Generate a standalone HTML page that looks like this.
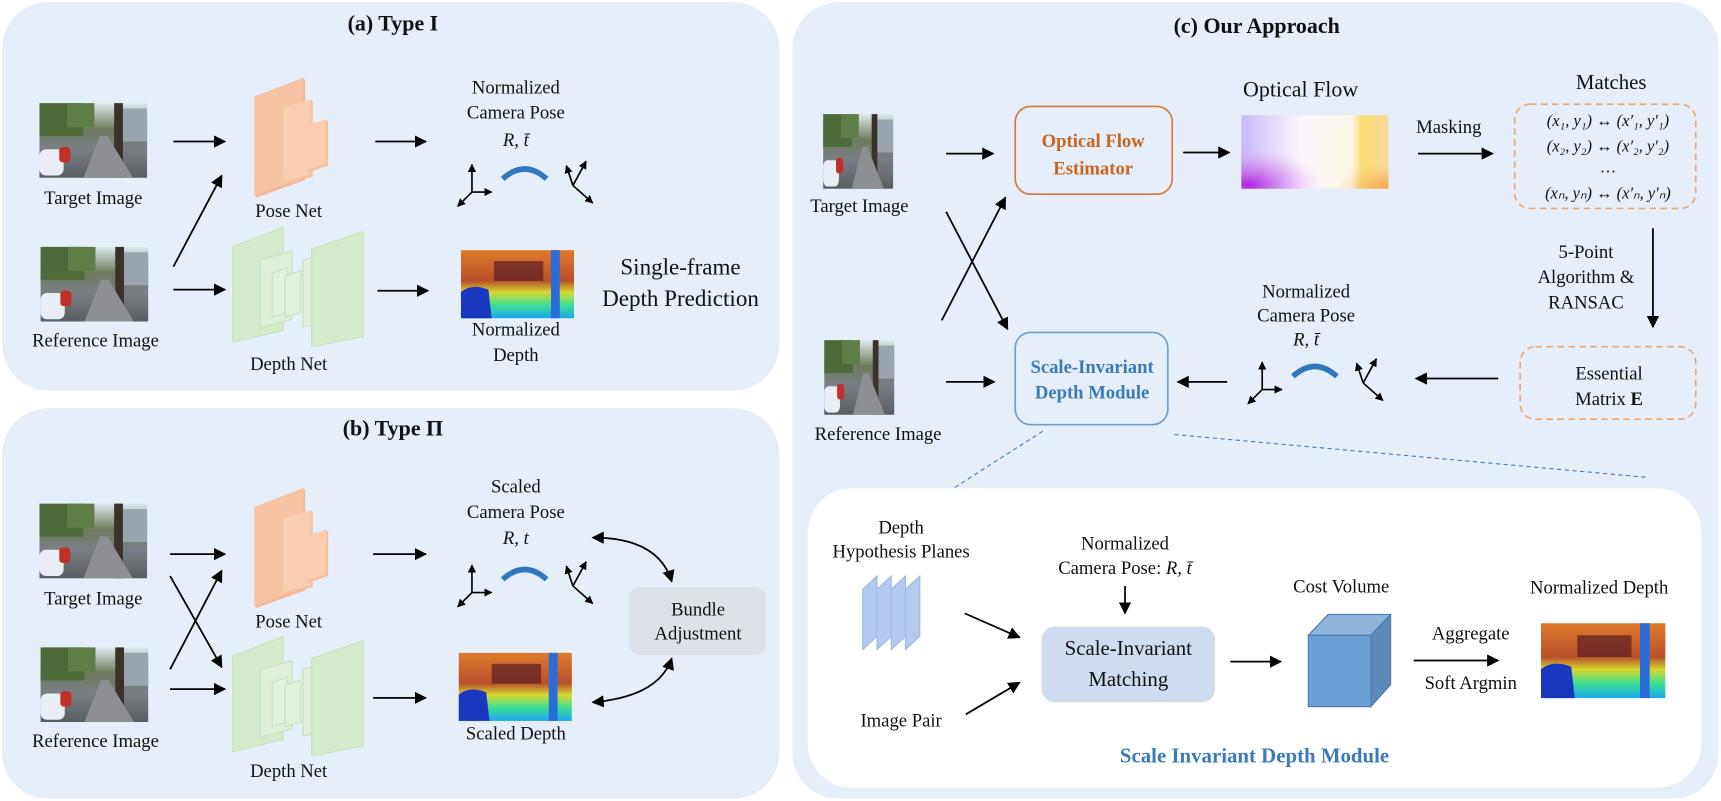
<!DOCTYPE html>
<html><head><meta charset="utf-8"><style>
html,body{margin:0;padding:0;background:#fff}
svg{display:block}
text{font-family:"Liberation Serif",serif;fill:#111;font-size:17px;text-anchor:middle}
.b{font-weight:bold}
.i{font-style:italic}
</style></head><body>
<svg width="1721" height="801" viewBox="0 0 1568 730" preserveAspectRatio="none" xmlns="http://www.w3.org/2000/svg">
<defs>
<marker id="ah" viewBox="0 0 10 10" refX="9" refY="5" markerWidth="7" markerHeight="7" orient="auto-start-reverse"><path d="M0,0 L10,5 L0,10 z" fill="#000"/></marker>
<marker id="sa" viewBox="0 0 10 10" refX="9" refY="5" markerWidth="5" markerHeight="5" orient="auto-start-reverse"><path d="M0,0 L10,5 L0,10 z" fill="#000"/></marker>
<linearGradient id="road" x1="0" y1="0" x2="0" y2="1"><stop offset="0" stop-color="#dfe8ee"/><stop offset="0.35" stop-color="#6d7a5a"/><stop offset="0.6" stop-color="#7a7f86"/><stop offset="1" stop-color="#5a5e60"/></linearGradient>
<linearGradient id="dep" x1="0" y1="0" x2="0" y2="1"><stop offset="0" stop-color="#e07a2c"/><stop offset="0.45" stop-color="#b8502a"/><stop offset="0.62" stop-color="#d8d830"/><stop offset="0.8" stop-color="#40e090"/><stop offset="1" stop-color="#18a8f0"/></linearGradient>
<linearGradient id="flow" x1="0" y1="0" x2="1" y2="0"><stop offset="0" stop-color="#c9b8f8"/><stop offset="0.4" stop-color="#fbf6fb"/><stop offset="0.75" stop-color="#fdf7e8"/><stop offset="0.82" stop-color="#f8dc70"/><stop offset="1" stop-color="#fbd9a0"/></linearGradient>
<radialGradient id="flow2" cx="0.05" cy="0.95" r="0.5"><stop offset="0" stop-color="#b020e0"/><stop offset="1" stop-color="#e0a0f0" stop-opacity="0"/></radialGradient>
<radialGradient id="flow3" cx="1" cy="1" r="0.35"><stop offset="0" stop-color="#f8a040"/><stop offset="1" stop-color="#f8c080" stop-opacity="0"/></radialGradient>
<g id="img">
<rect width="98" height="68" fill="url(#road)"/>
<rect x="0" y="0" width="40" height="30" fill="#4c6a3a"/>
<rect x="25" y="0" width="25" height="22" fill="#5e7e48"/>
<rect x="68" y="0" width="8" height="68" fill="#3a3228"/>
<rect x="76" y="5" width="22" height="30" fill="#9aa4ae"/>
<path d="M40,68 L55,30 L62,30 L85,68z" fill="#8d8f93"/>
<rect x="0" y="42" width="22" height="24" rx="6" fill="#e8eef4"/>
<rect x="18" y="40" width="10" height="14" rx="3" fill="#c03028"/>
</g>
<g id="depth">
<rect width="103" height="62" fill="url(#dep)"/>
<rect x="30" y="10" width="45" height="18" fill="#5a1c24" opacity="0.7"/>
<rect x="82" y="0" width="8" height="62" fill="#2a6cd8"/>
<path d="M0,38 Q10,30 25,36 L28,62 L0,62z" fill="#1838c0"/>
</g>
<g id="axes" stroke="#000" stroke-width="1.5" fill="none">
<line x1="0" y1="0" x2="0" y2="-25" marker-end="url(#sa)"/>
<line x1="0" y1="0" x2="18" y2="0" marker-end="url(#sa)"/>
<line x1="0" y1="0" x2="-13" y2="13" marker-end="url(#sa)"/>
<path d="M28,-12 Q48,-30 68,-12" stroke="#2f78c0" stroke-width="5"/>
<line x1="92" y1="-6" x2="104" y2="-28" marker-end="url(#sa)"/>
<line x1="92" y1="-6" x2="86" y2="-24" marker-end="url(#sa)"/>
<line x1="92" y1="-6" x2="110" y2="10" marker-end="url(#sa)"/>
</g>
<g id="pose" opacity="0.85">
<path d="M0,17 L44,0 L46,2 L46,93 L2,109 L0,107z" fill="#f6b088"/>
<path d="M0,17 L44,0 L44,91 L0,107z" fill="#fbbc94"/>
<path d="M26,27 L51,20 L53,22 L53,90 L28,97 L26,95z" fill="#f8b890"/>
<path d="M26,27 L51,20 L51,88 L26,95z" fill="#fdc8a4"/>
<path d="M47,43 L65,38 L67,40 L67,80 L49,86 L47,84z" fill="#f8b890"/>
<path d="M47,43 L65,38 L65,78 L47,84z" fill="#fdc8a4"/>
</g>
<g id="dnet" opacity="0.8" fill="#d3eac2" stroke="#c0dfaa" stroke-width="1">
<path d="M0,18 L46,0 L46,94 L0,105z"/>
<path d="M25,30 L54,22 L54,84 L25,92z" fill="#dff0d0"/>
<path d="M36,42 L50,37 L50,78 L36,82z" fill="#e2f2d4"/>
<path d="M48,44 L62,40 L62,78 L48,82z" fill="#e2f2d4"/>
<path d="M64,30 L93,23 L93,84 L64,91z" fill="#dff0d0"/>
<path d="M72,20 L119,4 L119,100 L72,109z"/>
</g>
</defs>

<!-- Panel a -->
<rect x="2" y="2" width="708" height="354" rx="42" fill="#e5eef9"/>
<text x="358" y="28" class="b" style="font-size:20px">(a) Type I</text>
<use href="#img" x="36" y="94"/>
<text x="85" y="186">Target Image</text>
<use href="#img" x="37" y="225"/>
<text x="87" y="316">Reference Image</text>
<g stroke="#000" stroke-width="1.6" marker-end="url(#ah)">
<line x1="158" y1="129" x2="205" y2="129"/>
<line x1="158" y1="264" x2="205" y2="264"/>
<line x1="158" y1="243" x2="202" y2="160"/>
<line x1="342" y1="129" x2="388" y2="129"/>
<line x1="344" y1="265" x2="390" y2="265"/>
</g>
<use href="#pose" x="232" y="71"/>
<text x="263" y="198">Pose Net</text>
<use href="#dnet" x="212" y="207"/>
<text x="263" y="337">Depth Net</text>
<text x="470" y="85">Normalized</text>
<text x="470" y="108">Camera Pose</text>
<text x="470" y="133" class="i">R, t̄</text>
<use href="#axes" x="430" y="175"/>
<use href="#depth" x="420" y="228"/>
<text x="470" y="306">Normalized</text>
<text x="470" y="329">Depth</text>
<text x="620" y="250" style="font-size:21px">Single-frame</text>
<text x="620" y="279" style="font-size:21px">Depth Prediction</text>

<!-- Panel b -->
<rect x="2" y="372" width="708" height="356" rx="42" fill="#e5eef9"/>
<text x="358" y="397" class="b" style="font-size:20px">(b) Type Π</text>
<use href="#img" x="36" y="459"/>
<text x="85" y="551">Target Image</text>
<use href="#img" x="37" y="590"/>
<text x="87" y="681">Reference Image</text>
<g stroke="#000" stroke-width="1.6" marker-end="url(#ah)">
<line x1="155" y1="505" x2="205" y2="505"/>
<line x1="155" y1="628" x2="205" y2="628"/>
<line x1="155" y1="525" x2="202" y2="608"/>
<line x1="155" y1="610" x2="202" y2="520"/>
<line x1="340" y1="505" x2="388" y2="505"/>
<line x1="340" y1="636" x2="388" y2="636"/>
</g>
<use href="#pose" x="232" y="445"/>
<text x="263" y="572">Pose Net</text>
<use href="#dnet" x="212" y="580"/>
<text x="263" y="708">Depth Net</text>
<text x="470" y="449">Scaled</text>
<text x="470" y="472">Camera Pose</text>
<text x="470" y="496" class="i">R, t</text>
<use href="#axes" x="430" y="540"/>
<use href="#depth" x="418" y="595"/>
<text x="470" y="674">Scaled Depth</text>
<rect x="573" y="535" width="125" height="62" rx="10" fill="#dde2e8"/>
<text x="636" y="561">Bundle</text>
<text x="636" y="583">Adjustment</text>
<path d="M540,490 Q600,490 612,530" stroke="#000" stroke-width="1.6" fill="none" marker-start="url(#ah)" marker-end="url(#ah)"/>
<path d="M540,640 Q600,635 612,600" stroke="#000" stroke-width="1.6" fill="none" marker-start="url(#ah)" marker-end="url(#ah)"/>

<!-- Panel c -->
<rect x="722" y="2" width="844" height="726" rx="42" fill="#e5eef9"/>
<text x="1145" y="30" class="b" style="font-size:20px">(c) Our Approach</text>
<use href="#img" x="0" y="0" transform="translate(750,104) scale(0.65,1)"/>
<text x="783" y="193">Target Image</text>
<use href="#img" x="0" y="0" transform="translate(751,310) scale(0.65,1)"/>
<text x="800" y="401">Reference Image</text>
<rect x="925" y="97" width="143" height="80" rx="14" fill="none" stroke="#d4793a" stroke-width="1.5"/>
<text x="996" y="134" class="b" style="fill:#c8641e">Optical Flow</text>
<text x="996" y="159" class="b" style="fill:#c8641e">Estimator</text>
<rect x="925" y="303" width="139" height="84" rx="14" fill="none" stroke="#6a9fd0" stroke-width="1.5"/>
<text x="995" y="340" class="b" style="fill:#3a7ab8">Scale-Invariant</text>
<text x="995" y="363" class="b" style="fill:#3a7ab8">Depth Module</text>
<text x="1185" y="88" style="font-size:20px">Optical Flow</text>
<rect x="1131" y="105" width="134" height="67" fill="url(#flow)"/>
<rect x="1131" y="105" width="134" height="67" fill="url(#flow2)"/>
<rect x="1131" y="105" width="134" height="67" fill="url(#flow3)"/>
<text x="1320" y="121">Masking</text>
<text x="1468" y="81" style="font-size:19px">Matches</text>
<rect x="1380" y="95" width="165" height="95" rx="14" fill="none" stroke="#f0a870" stroke-width="1.5" stroke-dasharray="6,4"/>
<text x="1465" y="115" class="i" style="font-size:15px">(x₁, y₁) ↔ (x′₁, y′₁)</text>
<text x="1465" y="138" class="i" style="font-size:15px">(x₂, y₂) ↔ (x′₂, y′₂)</text>
<text x="1465" y="157" style="font-size:15px">…</text>
<text x="1465" y="181" class="i" style="font-size:15px">(xₙ, yₙ) ↔ (x′ₙ, y′ₙ)</text>
<text x="1445" y="235">5-Point</text>
<text x="1445" y="258">Algorithm &amp;</text>
<text x="1445" y="281">RANSAC</text>
<rect x="1385" y="316" width="160" height="66" rx="14" fill="none" stroke="#f0a870" stroke-width="1.5" stroke-dasharray="6,4"/>
<text x="1466" y="346">Essential</text>
<text x="1466" y="369">Matrix <tspan class="b">E</tspan></text>
<text x="1190" y="271">Normalized</text>
<text x="1190" y="293">Camera Pose</text>
<text x="1190" y="315" class="i">R, t̄</text>
<use href="#axes" x="1150" y="355"/>
<g stroke="#000" stroke-width="1.6" marker-end="url(#ah)">
<line x1="862" y1="140" x2="905" y2="140"/>
<line x1="1078" y1="139" x2="1120" y2="139"/>
<line x1="1292" y1="140" x2="1360" y2="140"/>
<line x1="1506" y1="208" x2="1506" y2="298"/>
<line x1="1365" y1="345" x2="1290" y2="345"/>
<line x1="1118" y1="348" x2="1073" y2="348"/>
<line x1="862" y1="348" x2="906" y2="348"/>
<line x1="862" y1="193" x2="918" y2="300"/>
<line x1="858" y1="292" x2="916" y2="180"/>
</g>
<line x1="950" y1="393" x2="825" y2="473" stroke="#4a7ab8" stroke-width="1" stroke-dasharray="4,3"/>
<line x1="1070" y1="396" x2="1500" y2="435" stroke="#4a7ab8" stroke-width="1" stroke-dasharray="4,3"/>

<rect x="736" y="445" width="814" height="273" rx="40" fill="#fff"/>
<text x="821" y="486">Depth</text>
<text x="821" y="508">Hypothesis Planes</text>
<g fill="#a8c0ec" stroke="#90acde" stroke-width="1" opacity="0.85">
<path d="M786,537 L799,525 L799,580 L786,592z"/>
<path d="M799,537 L812,525 L812,580 L799,592z"/>
<path d="M812,537 L825,525 L825,580 L812,592z"/>
<path d="M825,537 L838,525 L838,580 L825,592z"/>
</g>
<text x="821" y="662">Image Pair</text>
<text x="1025" y="501">Normalized</text>
<text x="1025" y="523">Camera Pose:  <tspan class="i">R, t̄</tspan></text>
<rect x="949" y="571" width="158" height="69" rx="12" fill="#cfdbf0"/>
<text x="1028" y="597" style="font-size:19px">Scale-Invariant</text>
<text x="1028" y="625" style="font-size:19px">Matching</text>
<text x="1222" y="540">Cost Volume</text>
<path d="M1192,579 L1210,560 L1267,560 L1249,579z" fill="#8fb4dc" stroke="#4a7ab8"/>
<path d="M1249,579 L1267,560 L1267,624 L1249,644z" fill="#5c8ab8" stroke="#4a7ab8"/>
<rect x="1192" y="579" width="57" height="65" fill="#6a9fd3" stroke="#4a7ab8"/>
<text x="1340" y="583">Aggregate</text>
<text x="1340" y="628">Soft Argmin</text>
<text x="1457" y="541">Normalized Depth</text>
<use href="#depth" transform="translate(1404,568) scale(1.1,1.1)"/>
<g stroke="#000" stroke-width="1.6" marker-end="url(#ah)">
<line x1="879" y1="559" x2="929" y2="581"/>
<line x1="880" y1="651" x2="929" y2="622"/>
<line x1="1025" y1="534" x2="1025" y2="559"/>
<line x1="1121" y1="603" x2="1167" y2="603"/>
<line x1="1288" y1="602" x2="1365" y2="602"/>
</g>
<text x="1143" y="695" class="b" style="fill:#3a7ab8;font-size:19px">Scale Invariant Depth Module</text>
</svg>
</body></html>
